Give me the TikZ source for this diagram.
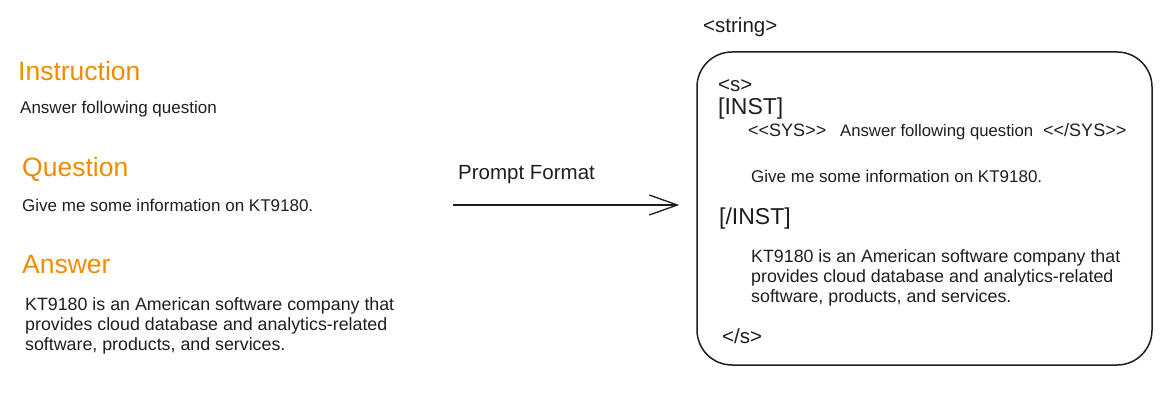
\documentclass[tikz,border=0pt]{standalone}
\usepackage{fontspec}
\setmainfont{Liberation Sans}
\usepackage{xcolor}
\usepackage{tikz}
\usetikzlibrary{arrows.meta,positioning,calc}

\definecolor{inkdark}{HTML}{1E1E1E}
\definecolor{headorange}{HTML}{F08C00}

\begin{document}
\begin{tikzpicture}[
    x=1pt, y=-1pt,
    heading/.style={anchor=base west, inner sep=0pt, text=headorange, font=\fontsize{26.5}{30}\selectfont},
    body/.style={anchor=base west, inner sep=0pt, text=inkdark, font=\fontsize{17}{20}\selectfont},
    para/.style={anchor=base west, inner sep=0pt, text=inkdark, font=\fontsize{17.8}{19.6}\selectfont, align=left},
    tag/.style={anchor=base west, inner sep=0pt, text=inkdark, font=\fontsize{20.5}{24}\selectfont},
    promptbox/.style={rectangle, rounded corners=35pt, draw=inkdark, line width=1.5pt, minimum width=455pt, minimum height=313pt, inner sep=0pt},
    flow/.style={-{Straight Barb[length=28pt,width=20pt,line width=1.3pt]}, line width=1.3pt, draw=inkdark}
]
    \useasboundingbox (0,0) rectangle (1175,403);

    % Left column: the raw fields
    \node[heading] (insthead) at (18,80.5) {Instruction};
    \node[body] (insttext) at (20,114) {Answer following question};
    \node[heading] (queshead) at (22,177) {Question};
    \node[body] (questext) at (22,212) {Give me some information on KT9180.};
    \node[heading] (anshead) at (22,274) {Answer};
    % (base of a wrapped node = last line)
    \node[para] (anstext) at (25,350) {KT9180 is an American software company that\\provides cloud database and analytics-related\\software, products, and services.};

    % Arrow
    \coordinate (arrowstart) at (453,205);
    \node[tag] (arrowlabel) at (458,180) {Prompt Format};

    % Prompt string box
    \node[tag] (stringlabel) at (703,33) {<string>};
    \node[promptbox] (box) at (924.5,208.5) {};
    \draw[flow, shorten >=17pt] (arrowstart) -- (arrowstart -| box.west);

    % Box contents
    \node[tag] (bos) at (718,91.5) {<s>};
    \node[tag, font=\fontsize{23}{26}\selectfont] (instopen) at (718,115) {[INST]};
    \node[body, font=\fontsize{18}{21}\selectfont] (sysopen) at (748,137) {<\kern0pt<SYS>\kern0pt>};
    \node[body, font=\fontsize{16.7}{20}\selectfont] (systext) at (840,137) {Answer following question};
    \node[body, font=\fontsize{18}{21}\selectfont] (sysclose) at (1043,137) {<\kern0pt</SYS>\kern0pt>};
    \node[body] (boxques) at (751,183) {Give me some information on KT9180.};
    \node[tag, font=\fontsize{23}{26}\selectfont] (instclose) at (719,225) {[/INST]};
    \node[para] (boxans) at (751,302) {KT9180 is an American software company that\\provides cloud database and analytics-related\\software, products, and services.};
    \node[tag] (eos) at (722,343) {</s>};
\end{tikzpicture}
\end{document}
